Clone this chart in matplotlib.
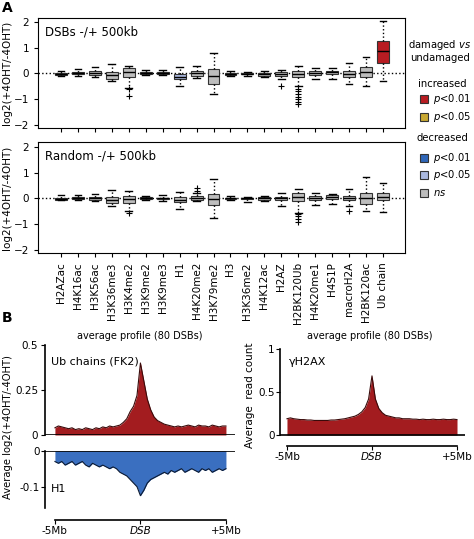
import matplotlib
matplotlib.use("Agg")
import matplotlib.pyplot as plt
import numpy as np

W, H = 474, 539
marks = ["H2AZac","H4K16ac","H3K56ac","H3K36me3","H3K4me2","H3K9me2","H3K9me3","H1",
         "H4K20me2","H3K79me2","H3","H3K36me2","H4K12ac","H2AZ","H2BK120Ub","H4K20me1",
         "H4S1P","macroH2A","H2BK120ac","Ub chain"]
# (q1, med, q3, whislo, whishi)
dsb_stats = [(-0.05,-0.01,0.03,-0.08,0.08),(-0.02,0.03,0.07,-0.1,0.17),(-0.05,0.03,0.1,-0.15,0.27),
             (-0.2,-0.05,0.05,-0.3,0.37),(-0.12,0.05,0.2,-0.55,0.3),(-0.02,0.03,0.07,-0.07,0.13),
             (-0.02,0.01,0.05,-0.07,0.12),(-0.23,-0.12,-0.03,-0.47,0.25),(-0.08,0.02,0.1,-0.17,0.3),
             (-0.4,-0.1,0.18,-0.8,0.8),(-0.05,-0.01,0.03,-0.08,0.08),(-0.04,-0.01,0.03,-0.08,0.07),
             (-0.1,-0.04,0.02,-0.14,0.08),(-0.08,-0.02,0.05,-0.22,0.12),(-0.15,-0.03,0.08,-0.48,0.3),
             (-0.05,0.03,0.1,-0.2,0.22),(-0.02,0.04,0.1,-0.2,0.2),(-0.12,-0.02,0.1,-0.42,0.42),
             (-0.15,0.05,0.25,-0.47,0.62),(0.4,0.87,1.25,-0.3,2.05)]
dsb_fliers = {4:[-0.6,-0.88],13:[-0.5],14:[-0.6,-0.7,-0.8,-0.9,-1.0,-1.1,-1.2]}
rnd_stats = [(-0.05,-0.01,0.03,-0.08,0.13),(-0.03,0.01,0.05,-0.08,0.12),(-0.05,0.0,0.05,-0.1,0.17),
             (-0.17,-0.05,0.05,-0.3,0.33),(-0.17,-0.03,0.08,-0.5,0.27),(-0.03,0.01,0.05,-0.07,0.08),
             (-0.03,0.0,0.03,-0.1,0.12),(-0.15,-0.05,0.05,-0.4,0.25),(-0.07,0.01,0.08,-0.12,0.22),
             (-0.25,-0.03,0.18,-0.75,0.75),(-0.04,0.0,0.03,-0.08,0.1),(-0.04,0.0,0.03,-0.15,0.07),
             (-0.06,0.0,0.05,-0.1,0.1),(-0.06,0.01,0.07,-0.3,0.2),(-0.1,0.05,0.2,-0.55,0.35),
             (-0.05,0.02,0.08,-0.25,0.2),(-0.02,0.05,0.12,-0.2,0.18),(-0.08,0.01,0.1,-0.3,0.35),
             (-0.2,0.0,0.2,-0.47,0.85),(-0.08,0.05,0.2,-0.52,0.58)]
rnd_fliers = {4:[-0.55],8:[0.3,0.4],14:[-0.6,-0.7,-0.8,-0.9],17:[-0.5]}
dsb_colors = ["#bdbdbd"]*7 + ["#aab8de"] + ["#bdbdbd"]*11 + ["#b81c22"]
rnd_colors = ["#bdbdbd"]*20

pos_mb = np.linspace(-5, 5, 51)
ub = [0.04,0.05,0.045,0.04,0.035,0.04,0.03,0.035,0.03,0.04,0.035,0.03,0.04,0.035,0.045,0.04,
      0.05,0.045,0.05,0.055,0.07,0.09,0.13,0.16,0.22,0.40,0.30,0.20,0.14,0.10,0.08,0.07,0.06,
      0.055,0.05,0.045,0.05,0.045,0.05,0.055,0.05,0.045,0.055,0.05,0.05,0.045,0.055,0.05,0.045,0.05,0.05]
h1 = [-0.03,-0.035,-0.03,-0.04,-0.035,-0.03,-0.04,-0.035,-0.03,-0.04,-0.045,-0.035,-0.04,-0.045,
      -0.04,-0.045,-0.05,-0.045,-0.05,-0.06,-0.065,-0.07,-0.08,-0.09,-0.1,-0.125,-0.11,-0.09,-0.08,
      -0.075,-0.07,-0.065,-0.06,-0.065,-0.055,-0.06,-0.055,-0.05,-0.06,-0.055,-0.05,-0.055,-0.06,
      -0.05,-0.055,-0.05,-0.06,-0.055,-0.05,-0.055,-0.05]
gh2ax = [0.19,0.2,0.19,0.185,0.18,0.18,0.175,0.175,0.17,0.17,0.17,0.17,0.17,0.175,0.175,0.18,
         0.185,0.19,0.2,0.21,0.22,0.24,0.27,0.32,0.42,0.69,0.42,0.31,0.26,0.23,0.22,0.21,0.2,
         0.2,0.19,0.19,0.19,0.185,0.185,0.18,0.185,0.18,0.18,0.185,0.18,0.18,0.185,0.18,0.18,0.185,0.18]

fig = plt.figure(figsize=(W/100, H/100), dpi=100)
def rect(l, t, r, b):
    return [l/W, 1-b/H, (r-l)/W, (b-t)/H]

def boxpanel(t, b, stats, fliers, colors, label, ytop, showlabels):
    ax = fig.add_axes(rect(38, t, 405, b))
    bs = []
    for i, (q1, med, q3, lo, hi) in enumerate(stats):
        bs.append(dict(q1=q1, med=med, q3=q3, whislo=lo, whishi=hi, fliers=fliers.get(i, [])))
    bp = ax.bxp(bs, positions=range(1, 21), widths=0.7, patch_artist=True,
                whiskerprops=dict(linestyle=':', color='black', lw=1),
                capprops=dict(color='black', lw=1), medianprops=dict(color='black', lw=1),
                flierprops=dict(marker='+', markersize=4, markeredgecolor='black', markeredgewidth=0.8),
                boxprops=dict(edgecolor='#333333', lw=0.8), capwidths=0.4)
    for p, c in zip(bp['boxes'], colors):
        p.set_facecolor(c)
    ax.axhline(0, color='black', ls=':', lw=1, zorder=0.5)
    ax.set_xlim(-0.36, 21.3)
    ax.set_ylim(-2.12, ytop)
    ax.set_yticks([-2, -1, 0, 1, 2])
    ax.tick_params(labelsize=7.5, length=3)
    ax.set_xticks(range(1, 21))
    if showlabels:
        ax.set_xticklabels(marks, rotation=90, fontsize=7.5)
    else:
        ax.set_xticklabels([])
    ax.set_ylabel("log2(+4OHT/-4OHT)", fontsize=7.5, labelpad=1)
    ax.text(0.02, 0.93, label, transform=ax.transAxes, fontsize=8.5, va='top')
    return ax

boxpanel(18, 128, dsb_stats, dsb_fliers, dsb_colors, "DSBs -/+ 500kb", 2.155, False)
boxpanel(142, 253, rnd_stats, rnd_fliers, rnd_colors, "Random -/+ 500kb", 2.19, True)

fig.text(2/W, 1-8/H, "A", fontsize=10, fontweight='bold', va='center')
fig.text(2/W, 1-318/H, "B", fontsize=10, fontweight='bold', va='center')

# legend
fs = 7.2
fig.text(440/W, 1-45/H, "damaged $\\it{vs}$", fontsize=fs, ha='center', va='center')
fig.text(440/W, 1-58/H, "undamaged", fontsize=fs, ha='center', va='center')
fig.text(442/W, 1-84/H, "increased", fontsize=fs, ha='center', va='center')
fig.text(442/W, 1-138/H, "decreased", fontsize=fs, ha='center', va='center')
leg = [(99, "#b81c22", "$\\it{p}$<0.01"), (117, "#c8a832", "$\\it{p}$<0.05"),
       (158, "#2f66b8", "$\\it{p}$<0.01"), (175, "#aab8de", "$\\it{p}$<0.05"),
       (193, "#bdbdbd", "$\\it{ns}$")]
for y, c, t in leg:
    fig.patches.append(plt.Rectangle(((420)/W, 1-(y+4)/H), 8/W, 8/H, transform=fig.transFigure,
                                     facecolor=c, edgecolor='#333333', lw=0.8))
    fig.text(433/W, 1-y/H, t, fontsize=fs, va='center')

# B left upper
axu = fig.add_axes(rect(45, 345, 235, 435))
axu.fill_between(pos_mb, 0, ub, color='#a31c1f', lw=0)
axu.plot(pos_mb, ub, color='#3a0a0a', lw=0.8)
axu.axhline(0, color='black', lw=1.2)
axu.set_xlim(-5.58, 5.53); axu.set_ylim(0, 0.5)
for s in ['top', 'right', 'bottom']:
    axu.spines[s].set_visible(False)
axu.spines['left'].set_linewidth(1.2)
axu.set_xticks([])
axu.set_yticks([0, 0.25, 0.5]); axu.set_yticklabels(["0", "0.25", "0.5"])
axu.tick_params(labelsize=7.5, length=3, pad=2)
axu.text(0.03, 0.78, "Ub chains (FK2)", transform=axu.transAxes, fontsize=8)
fig.text(140/W, 1-341/H, "average profile (80 DSBs)", fontsize=7, ha='center', va='bottom')

axl = fig.add_axes(rect(45, 450.7, 235, 520))
axl.fill_between(pos_mb, 0, h1, color='#3a6fc0', lw=0)
axl.plot(pos_mb, h1, color='#0b1a33', lw=0.8)
axl.axhline(0, color='black', lw=1.2)
axl.set_xlim(-5.58, 5.53); axl.set_ylim(-0.1925, 0)
for s in ['top', 'right']:
    axl.spines[s].set_visible(False)
axl.spines['left'].set_bounds(-0.16, 0)
axl.spines['bottom'].set_bounds(-5, 5)
axl.spines['left'].set_linewidth(1.2); axl.spines['bottom'].set_linewidth(1.2)
axl.set_yticks([-0.1, 0]); axl.set_yticklabels(["-0.1", "0"])
axl.set_xticks([-5, 0, 5]); axl.set_xticklabels(["-5Mb", "DSB", "+5Mb"])
axl.get_xticklabels()[1].set_style('italic')
axl.tick_params(labelsize=7.5, length=3, pad=1)
axl.text(0.03, 0.4, "H1", transform=axl.transAxes, fontsize=8)
fig.text(8/W, 1-427/H, "Average log2(+4OHT/-4OHT)", fontsize=7.2, rotation=90, ha='center', va='center')

# B right
axr = fig.add_axes(rect(280, 345, 465, 446))
axr.fill_between(pos_mb, 0, gh2ax, color='#a31c1f', lw=0)
axr.plot(pos_mb, gh2ax, color='#3a0a0a', lw=0.8)
axr.axhline(0, color='black', lw=1.2)
axr.set_xlim(-5.41, 5.47); axr.set_ylim(-0.128, 1.05)
for s in ['top', 'right']:
    axr.spines[s].set_visible(False)
axr.spines['left'].set_bounds(0, 1)
axr.spines['bottom'].set_bounds(-5, 5)
axr.spines['left'].set_linewidth(1.2); axr.spines['bottom'].set_linewidth(1.2)
axr.set_yticks([0, 0.5, 1]); axr.set_yticklabels(["0", "0.5", "1"])
axr.set_xticks([-5, 0, 5]); axr.set_xticklabels(["-5Mb", "DSB", "+5Mb"])
axr.get_xticklabels()[1].set_style('italic')
axr.tick_params(labelsize=7.5, length=3, pad=1)
axr.set_ylabel("Average  read count", fontsize=7.5, labelpad=2)
axr.text(0.05, 0.8, "γH2AX", transform=axr.transAxes, fontsize=8)
fig.text(370/W, 1-341/H, "average profile (80 DSBs)", fontsize=7, ha='center', va='bottom')

fig.savefig("out.png", dpi=100)
